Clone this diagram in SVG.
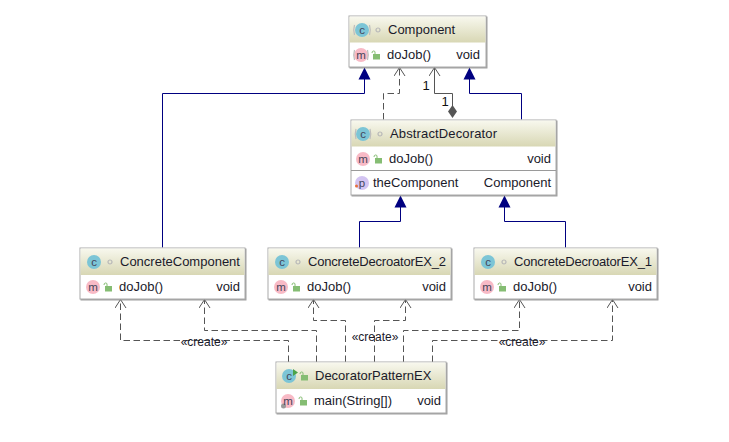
<svg xmlns="http://www.w3.org/2000/svg" width="729" height="442" viewBox="0 0 729 442">
<style>
text{font-family:"Liberation Sans",Arial,sans-serif;font-size:13px;fill:#1a1a2a}
.end{text-anchor:end}
.ic{text-anchor:middle;font-size:11.5px;fill:#44445a}
.lab{font-size:12px;fill:#1a1a2a}
.one{font-size:13px;fill:#111}
.lc{text-anchor:middle}
.box{fill:#fff;stroke:#a9a9a9;stroke-width:1;filter:url(#sh)}
.hd{fill:url(#hg)}
.sep{stroke:#9a9a9a;stroke-width:1}
.b{fill:none;stroke:#000080;stroke-width:1}
.d{fill:none;stroke:#555;stroke-width:1;stroke-dasharray:6.500 3.500}
.s{fill:none;stroke:#555;stroke-width:1}
.vis{fill:none;stroke:#bdbdbd;stroke-width:1.200}
</style>
<defs>
<linearGradient id="hg" x1="0" y1="0" x2="0" y2="1"><stop offset="0" stop-color="#f8f8ee"/><stop offset="1" stop-color="#d8d7b4"/></linearGradient>
<filter id="sh" x="-5%" y="-5%" width="110%" height="115%"><feDropShadow dx="1" dy="1" stdDeviation="0.600" flood-color="#888" flood-opacity="0.800"/></filter>
<marker id="open" markerUnits="userSpaceOnUse" markerWidth="14" markerHeight="12" refX="10" refY="6" orient="auto" viewBox="0 0 14 12"><path d="M1.500 0.500 L10 6 L1.500 11.500" fill="none" stroke="#555" stroke-width="1"/></marker>
<marker id="hollow" markerUnits="userSpaceOnUse" markerWidth="13" markerHeight="13" refX="12" refY="6" orient="auto" viewBox="0 0 13 12"><path d="M12 6 L0 0 L0 12Z" fill="#000080"/></marker>
<g id="lock"><rect x="1" y="3" width="7" height="5.500" fill="#85bd73"/><path d="M3 3 V1 Q3 0 1.500 0 Q0 0 0 2" fill="none" stroke="#85bd73" stroke-width="1"/></g>
<circle id="cc" r="7" fill="#7cc5d6"/>
<circle id="cm" r="7" fill="#f8bac6"/>
<circle id="cp" r="7" fill="#d3c4f2"/>
<circle id="dot" r="2" fill="none" stroke="#b8b8b8" stroke-width="1.200"/>
</defs>

<g id="connectors">
<path class="b" d="M162.500 247.500V93.500H364.500V67.500" marker-end="url(#hollow)"/>
<path class="b" d="M521.500 119.500V93.500H469.500V67.500" marker-end="url(#hollow)"/>
<path class="b" d="M359.500 247.500V221.500H400.500V195.500" marker-end="url(#hollow)"/>
<path class="b" d="M565.500 247.500V221.500H504.500V195.500" marker-end="url(#hollow)"/>
<path class="d" d="M383.500 119.500V93.500H399.500V67.500" marker-end="url(#open)"/>
<path class="s" d="M452.500 106V93.500H434.500V67.500" marker-end="url(#open)"/>
<path d="M452.500 105 L457 111.500 L452.500 118 L448 111.500Z" fill="#555"/>
<path class="d" d="M288.500 362V340.500H120.500V299.500" marker-end="url(#open)"/>
<path class="d" d="M316.500 362V330.500H204.500V299.500" marker-end="url(#open)"/>
<path class="d" d="M345.500 362V320.500H313.500V299.500" marker-end="url(#open)"/>
<path class="d" d="M374.500 362V320.500H405.500V299.500" marker-end="url(#open)"/>
<path class="d" d="M403.500 362V330.500H519.500V299.500" marker-end="url(#open)"/>
<path class="d" d="M432.500 362V340.500H612.500V299.500" marker-end="url(#open)"/>
<text x="426" y="90" class="one lc">1</text>
<text x="445" y="106" class="one lc">1</text>
<text x="204" y="346" class="lab lc">«create»</text>
<text x="375" y="341" class="lab lc">«create»</text>
<text x="522" y="346" class="lab lc">«create»</text>
</g>

<g id="Component">
<rect class="box" x="349" y="16" width="137" height="51"/>
<rect class="hd" x="349.500" y="16.500" width="136" height="26"/>
<use href="#cc" x="362" y="30"/><path class="vis" d="M354.500 25Q353 30 354.500 35M369.500 25Q371 30 369.500 35"/><text class="ic" x="362" y="34">c</text>
<use href="#dot" x="378" y="30"/>
<text x="388" y="34">Component</text>
<use href="#cm" x="361" y="55"/><path class="vis" d="M354.500 50Q353 55 354.500 60M367.500 50Q369 55 367.500 60"/><text class="ic" x="361" y="59">m</text>
<use href="#lock" x="372" y="51"/>
<text x="387" y="59">doJob()</text>
<text class="end" x="480" y="59">void</text>
</g>

<g id="AbstractDecorator">
<rect class="box" x="351" y="120" width="205" height="75"/>
<rect class="hd" x="351.500" y="120.500" width="204" height="26"/>
<line class="sep" x1="351" y1="170.500" x2="556" y2="170.500"/>
<use href="#cc" x="363" y="134"/><path class="vis" d="M356 129Q354.500 134 356 139M370 129Q371.500 134 370 139"/><text class="ic" x="363" y="138">c</text>
<use href="#dot" x="380" y="134"/>
<text x="390" y="138" textLength="107">AbstractDecorator</text>
<use href="#cm" x="363" y="159"/><text class="ic" x="363" y="163">m</text>
<use href="#lock" x="374" y="155"/>
<text x="389" y="163">doJob()</text>
<text class="end" x="551" y="163">void</text>
<use href="#cp" x="362" y="183"/><circle cx="356.500" cy="186" r="1.500" fill="#e8703a"/><text class="ic" x="362" y="187">p</text>
<text x="373" y="187">theComponent</text>
<text class="end" x="551" y="187">Component</text>
</g>

<g id="ConcreteComponent">
<rect class="box" x="80" y="248" width="165" height="51"/>
<rect class="hd" x="80.500" y="248.500" width="164" height="26.500"/>
<use href="#cc" x="94" y="262"/><text class="ic" x="94" y="266">c</text>
<use href="#dot" x="110" y="262"/>
<text x="120" y="266">ConcreteComponent</text>
<use href="#cm" x="93" y="287"/><text class="ic" x="93" y="291">m</text>
<use href="#lock" x="104" y="283"/>
<text x="119" y="291">doJob()</text>
<text class="end" x="240" y="291">void</text>
</g>

<g id="ConcreteDecroatorEX_2">
<rect class="box" x="268" y="248" width="183" height="51"/>
<rect class="hd" x="268.500" y="248.500" width="182" height="26.500"/>
<use href="#cc" x="282" y="262"/><text class="ic" x="282" y="266">c</text>
<use href="#dot" x="298" y="262"/>
<text x="308" y="266" textLength="138">ConcreteDecroatorEX_2</text>
<use href="#cm" x="281" y="287"/><text class="ic" x="281" y="291">m</text>
<use href="#lock" x="292" y="283"/>
<text x="307" y="291">doJob()</text>
<text class="end" x="446" y="291">void</text>
</g>

<g id="ConcreteDecroatorEX_1">
<rect class="box" x="474" y="248" width="183" height="51"/>
<rect class="hd" x="474.500" y="248.500" width="182" height="26.500"/>
<use href="#cc" x="488" y="262"/><text class="ic" x="488" y="266">c</text>
<use href="#dot" x="504" y="262"/>
<text x="514" y="266" textLength="138">ConcreteDecroatorEX_1</text>
<use href="#cm" x="487" y="287"/><text class="ic" x="487" y="291">m</text>
<use href="#lock" x="498" y="283"/>
<text x="513" y="291">doJob()</text>
<text class="end" x="652" y="291">void</text>
</g>

<g id="DecoratorPatternEX">
<rect class="box" x="276" y="362" width="170" height="51"/>
<rect class="hd" x="276.500" y="362.500" width="169" height="26.500"/>
<use href="#cc" x="289" y="376"/><path d="M293 369l5 3.500-5 3.500z" fill="#4aa34a"/><text class="ic" x="289" y="380">c</text>
<use href="#lock" x="300" y="372"/>
<text x="315" y="380">DecoratorPatternEX</text>
<use href="#cm" x="288" y="401"/><circle cx="283.500" cy="406" r="2.500" fill="#999"/><text class="ic" x="288" y="405">m</text>
<use href="#lock" x="299" y="397"/>
<text x="314" y="405">main(String[])</text>
<text class="end" x="441" y="405">void</text>
</g>
</svg>
